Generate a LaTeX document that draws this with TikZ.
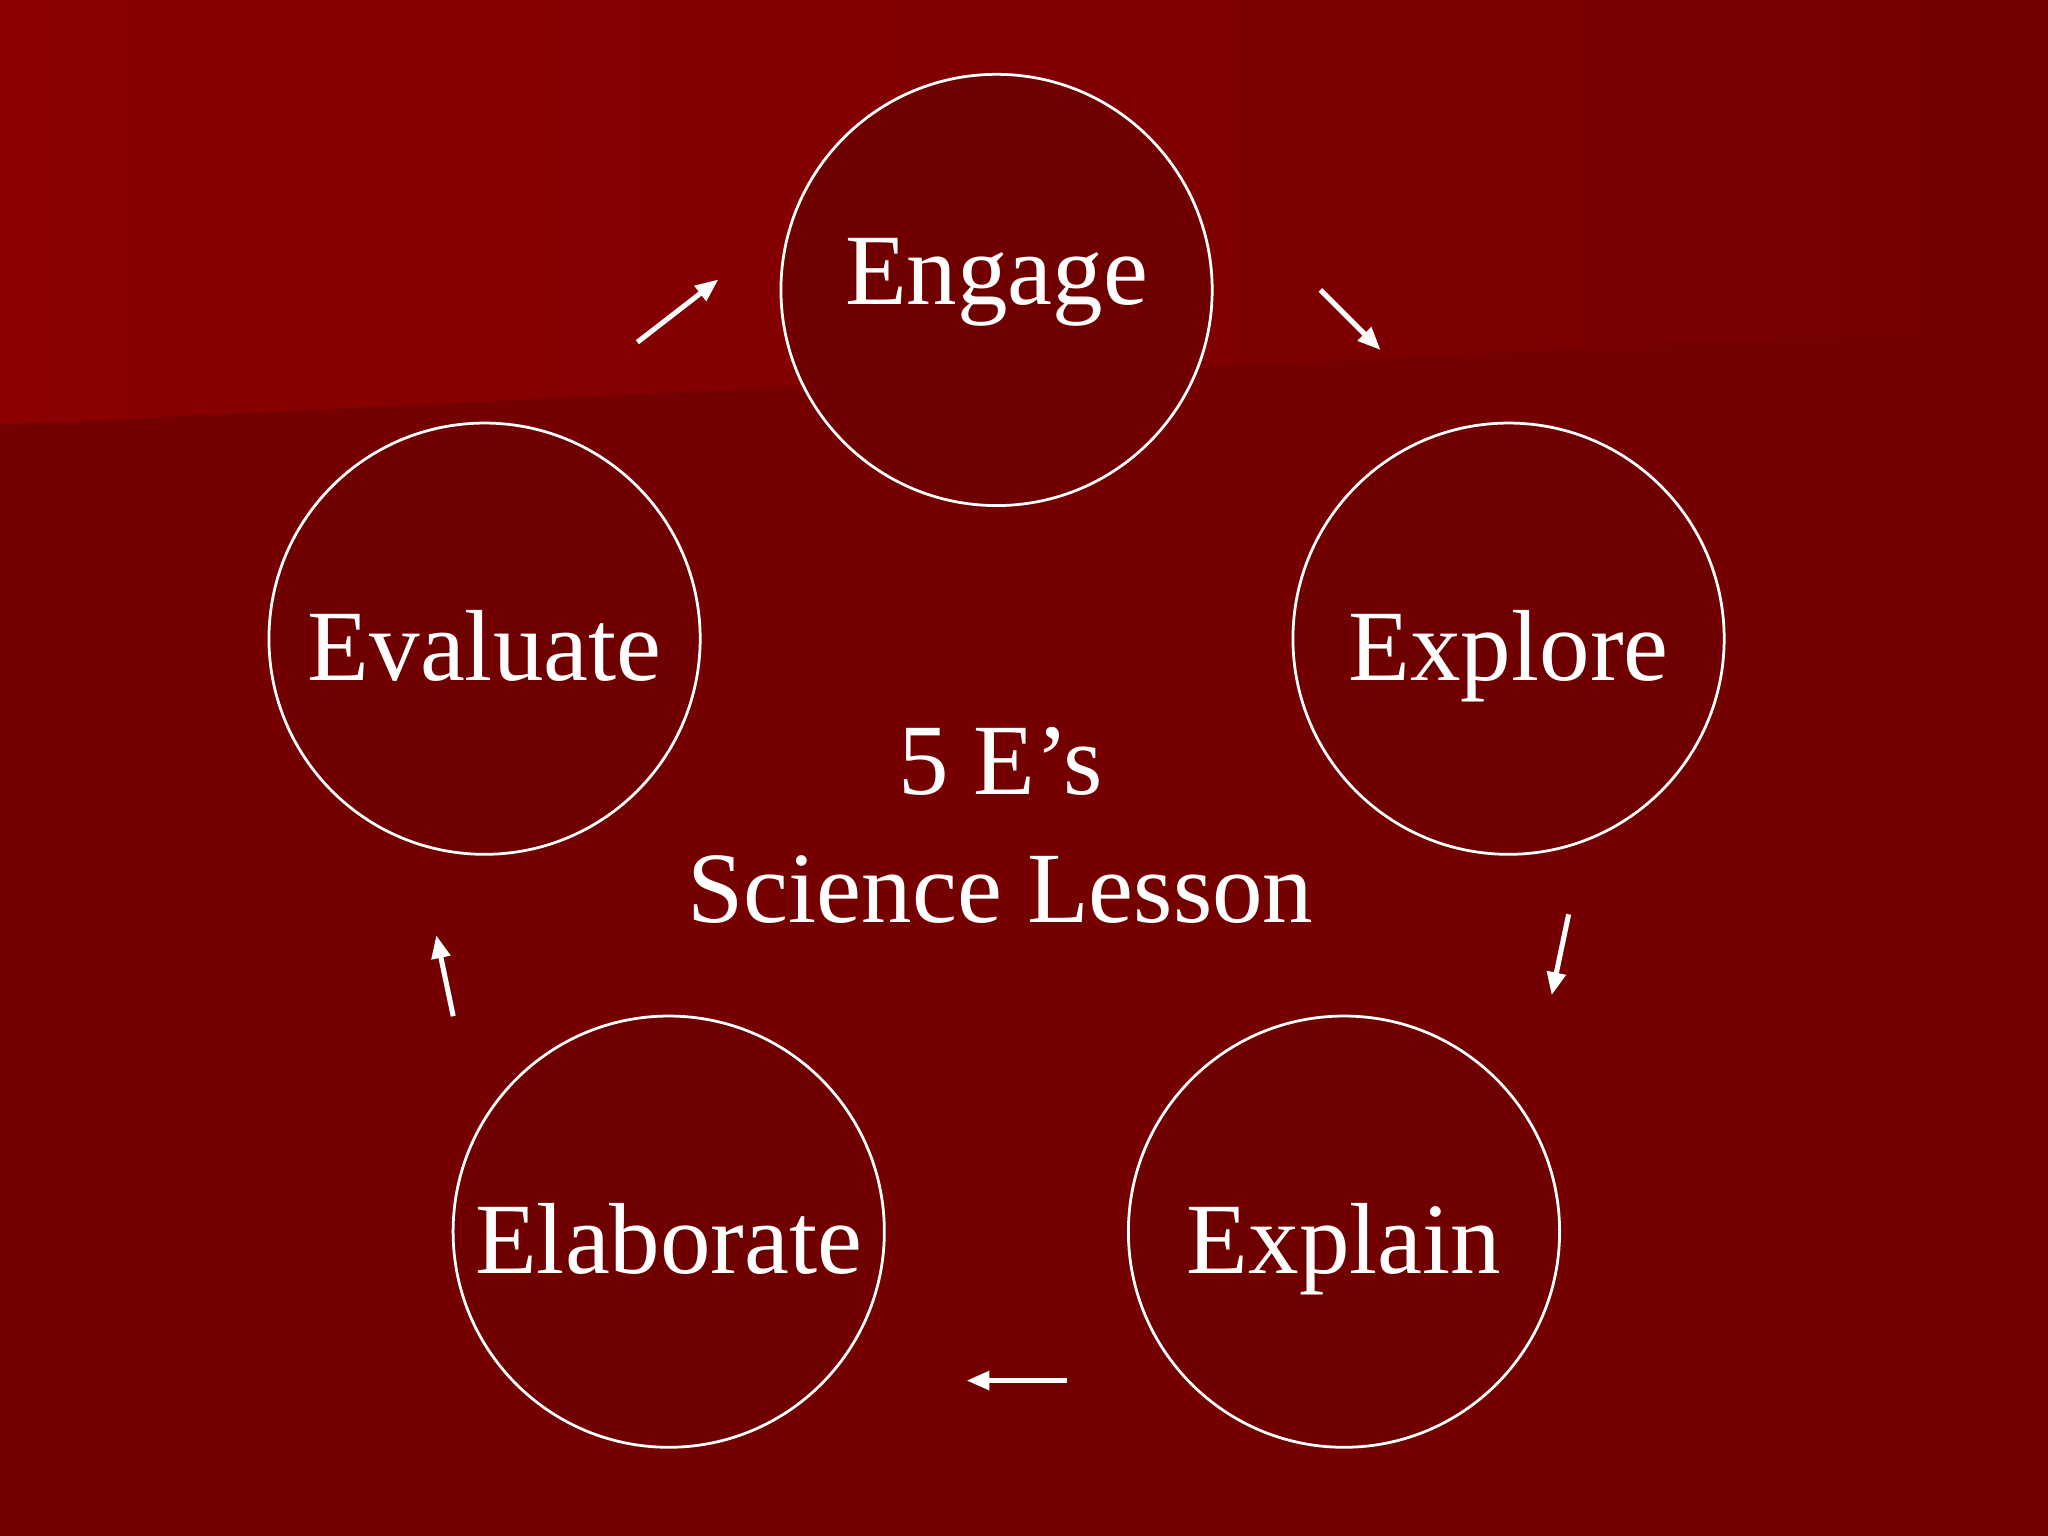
\documentclass[tikz,border=0pt]{standalone}
\usepackage{fontspec}
\setmainfont{Liberation Serif}
\usetikzlibrary{arrows.meta}
\definecolor{bgred}{RGB}{116,0,0}
\definecolor{topred}{RGB}{140,0,0}
\definecolor{cellred}{RGB}{112,0,0}
\begin{document}
\begin{tikzpicture}[x=0.01cm,y=-0.01cm,
    phase/.style={circle, draw=white, line width=0.6pt, fill=cellred, minimum size=3.3cm, inner sep=0pt, text height=0.64cm, text depth=0pt, text=white, font=\fontsize{22}{26}\selectfont},
    flow/.style={draw=white, line width=1.1pt, -{Triangle[width=4pt,length=5pt]}}
]
% background
\fill[bgred] (0,0) rectangle (1568,1176);
\shade[left color=topred, right color=bgred] (0,0) -- (1568,0) -- (1568,250) -- (0,325) -- cycle;
\useasboundingbox (0,0) rectangle (1568,1176);

\node[phase] (engage) at (763,222) {\raisebox{0.21cm}{Engage}};
\node[phase] (explore) at (1155,489) {Explore};
\node[phase] (explain) at (1029,943) {Explain};
\node[phase] (elaborate) at (512,943) {Elaborate};
\node[phase] (evaluate) at (371,489) {Evaluate};

\node[text=white, align=center, font=\fontsize{22}{28}\selectfont] (title) at (766,632) {5 E’s\\Science Lesson};

% cycle arrows
\coordinate (a1) at (488,262); \coordinate (b1) at (550,214);
\coordinate (a2) at (1011,222); \coordinate (b2) at (1057,268);
\coordinate (a3) at (1201,700); \coordinate (b3) at (1188,762);
\coordinate (a4) at (817,1057); \coordinate (b4) at (740,1057);
\coordinate (a5) at (347,778); \coordinate (b5) at (334,716);
\draw[flow] (a1) -- (b1);
\draw[flow] (a2) -- (b2);
\draw[flow] (a3) -- (b3);
\draw[flow] (a4) -- (b4);
\draw[flow] (a5) -- (b5);
\end{tikzpicture}
\end{document}
